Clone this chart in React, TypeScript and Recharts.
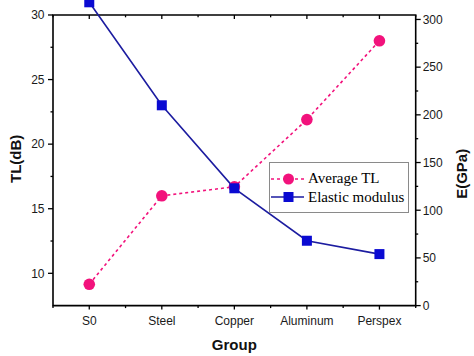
import { LineChart, Line, XAxis, YAxis, Legend, ReferenceArea, ReferenceLine } from "recharts";

const groups = ["S0", "Steel", "Copper", "Aluminum", "Perspex"];
const averageTL = [9.15, 16.0, 16.7, 21.9, 28.0];
const elasticModulus = [318, 210, 123, 68, 54];

const tlTicks = [10, 12.5, 15, 17.5, 20, 22.5, 25, 27.5, 30];
const eTicks = [0, 25, 50, 75, 100, 125, 150, 175, 200, 225, 250, 275, 300];

const PINK = "#f2127c";
const BLUE_LINE = "#1c1ca0";
const BLUE_MARK = "#0a0ad2";
const SANS = '"Liberation Sans", Arial, sans-serif';
const SERIF = '"Liberation Serif", "Times New Roman", serif';

const data = groups.map((g, i) => ({ idx: i, group: g, tl: averageTL[i], e: elasticModulus[i] }));
const xTicks = groups.flatMap((_, i) => [i - 0.5, i]).concat(groups.length - 0.5);

// left axis covers 7.5..30 on the frame, extra room above so the S0 square is not clipped
const TL_DOMAIN = [7.5, 31.16];
const E_DOMAIN = [0, 320.4];

function BottomTick({ x, y, payload }: any) {
  const v = payload.value;
  const major = Number.isInteger(v);
  return (
    <g>
      <line x1={x} x2={x} y1={y} y2={y + (major ? 4 : 2.5)} stroke="#000" strokeWidth={1.3} />
      {major && (
        <text x={x} y={y + 19.5} textAnchor="middle" fontFamily={SANS} fontSize={12} fill="#1a1a1a">
          {groups[v]}
        </text>
      )}
    </g>
  );
}

function LeftTick({ x, y, payload }: any) {
  const v = payload.value;
  const major = v % 5 === 0;
  return (
    <g>
      <line x1={x - (major ? 5 : 2.5)} x2={x} y1={y} y2={y} stroke="#000" strokeWidth={1.3} />
      {major && (
        <text x={x - 8.5} y={y} dy={4.3} textAnchor="end" fontFamily={SANS} fontSize={12} fill="#1a1a1a">
          {v}
        </text>
      )}
    </g>
  );
}

function RightTick({ x, y, payload }: any) {
  const v = payload.value;
  const major = v % 50 === 0;
  return (
    <g>
      <line x1={x} x2={x + (major ? 5 : 2.5)} y1={y} y2={y} stroke="#000" strokeWidth={1.3} />
      {major && (
        <text x={x + 7} y={y} dy={4.3} textAnchor="start" fontFamily={SANS} fontSize={12} fill="#1a1a1a">
          {v}
        </text>
      )}
    </g>
  );
}

function SquareDot({ cx, cy, index }: any) {
  return <rect key={`sq-${index}`} x={cx - 5} y={cy - 5} width={10} height={10} fill={BLUE_MARK} />;
}

const leftTitle = ({ viewBox }: any) => {
  const cx = viewBox.x + 16;
  const cy = viewBox.y + viewBox.height / 2 + 6;
  return (
    <text x={cx} y={cy} transform={`rotate(-90 ${cx} ${cy})`} textAnchor="middle" dominantBaseline="central"
      fontFamily={SANS} fontSize={15} fontWeight="bold" fill="#111">
      TL(dB)
    </text>
  );
};

const rightTitle = ({ viewBox }: any) => {
  const cx = viewBox.x + 45.5;
  const cy = viewBox.y + viewBox.height / 2 + 21;
  return (
    <text x={cx} y={cy} transform={`rotate(-90 ${cx} ${cy})`} textAnchor="middle" dominantBaseline="central"
      fontFamily={SANS} fontSize={15} fontWeight="bold" fill="#111">
      E(GPa)
    </text>
  );
};

const bottomTitle = ({ viewBox }: any) => (
  <text x={viewBox.x + viewBox.width / 2} y={viewBox.y + 44.5} textAnchor="middle"
    fontFamily={SANS} fontSize={15} fontWeight="bold" fill="#111">
    Group
  </text>
);

function LegendBox() {
  const row = { display: "flex", alignItems: "center", height: 18.4 };
  return (
    <div style={{ width: 140, height: 51, boxSizing: "border-box", border: "1px solid #8a8a8a", background: "#fff",
      fontFamily: SERIF, fontSize: 15, color: "#000", paddingTop: 6.5 }}>
      <div style={row}>
        <svg width={38} height={18}>
          <line x1={1} x2={34} y1={9} y2={9} stroke={PINK} strokeWidth={1.6} strokeDasharray="3 3" />
          <circle cx={18.5} cy={9} r={5.5} fill={PINK} />
        </svg>
        <span>Average TL</span>
      </div>
      <div style={row}>
        <svg width={38} height={18}>
          <line x1={1} x2={34} y1={9} y2={9} stroke={BLUE_LINE} strokeWidth={1.6} />
          <rect x={13.5} y={4} width={10} height={10} fill={BLUE_MARK} />
        </svg>
        <span>Elastic modulus</span>
      </div>
    </div>
  );
}

export default function App() {
  return (
    <div style={{ position: "absolute", left: 0, top: 0, width: 474, height: 356, background: "#fff" }}>
      <LineChart width={474} height={356} data={data} margin={{ top: 0, right: 0, bottom: 0, left: 0 }}>
        <XAxis dataKey="idx" type="number" domain={[-0.5, 4.5]} ticks={xTicks} interval={0} height={50.4}
          axisLine={false} tickLine={false} tickSize={0} tickMargin={0} tick={<BottomTick />} label={bottomTitle} />
        <YAxis yAxisId="left" domain={TL_DOMAIN} ticks={tlTicks} interval={0} width={53}
          axisLine={false} tickLine={false} tickSize={0} tickMargin={0} tick={<LeftTick />} label={leftTitle} />
        <YAxis yAxisId="right" orientation="right" domain={E_DOMAIN} ticks={eTicks} interval={0} width={58.3}
          axisLine={false} tickLine={false} tickSize={0} tickMargin={0} tick={<RightTick />} label={rightTitle} />
        <ReferenceArea yAxisId="left" x1={-0.5} x2={4.5} y1={7.5} y2={30} fill="none" fillOpacity={0}
          stroke="#000" strokeWidth={1.6} ifOverflow="visible" />
        {xTicks.map((t) => (
          <ReferenceLine key={`top-${t}`} yAxisId="left" ifOverflow="visible" stroke="#000" strokeWidth={1.3}
            segment={[{ x: t, y: 30 }, { x: t, y: Number.isInteger(t) ? 29.69 : 29.82 }]} />
        ))}
        <Line yAxisId="left" dataKey="tl" stroke={PINK} strokeWidth={1.6} strokeDasharray="3 3"
          dot={{ r: 5.8, fill: PINK, stroke: PINK, strokeWidth: 0, strokeDasharray: "" }} activeDot={false}
          isAnimationActive={false} />
        <Line yAxisId="right" dataKey="e" stroke={BLUE_LINE} strokeWidth={1.6} dot={SquareDot} activeDot={false}
          isAnimationActive={false} />
        <Legend layout="vertical" align="center" verticalAlign="middle" content={<LegendBox />}
          wrapperStyle={{ position: "absolute", left: 269, top: 162, width: 140, height: 51 }} />
      </LineChart>
    </div>
  );
}
